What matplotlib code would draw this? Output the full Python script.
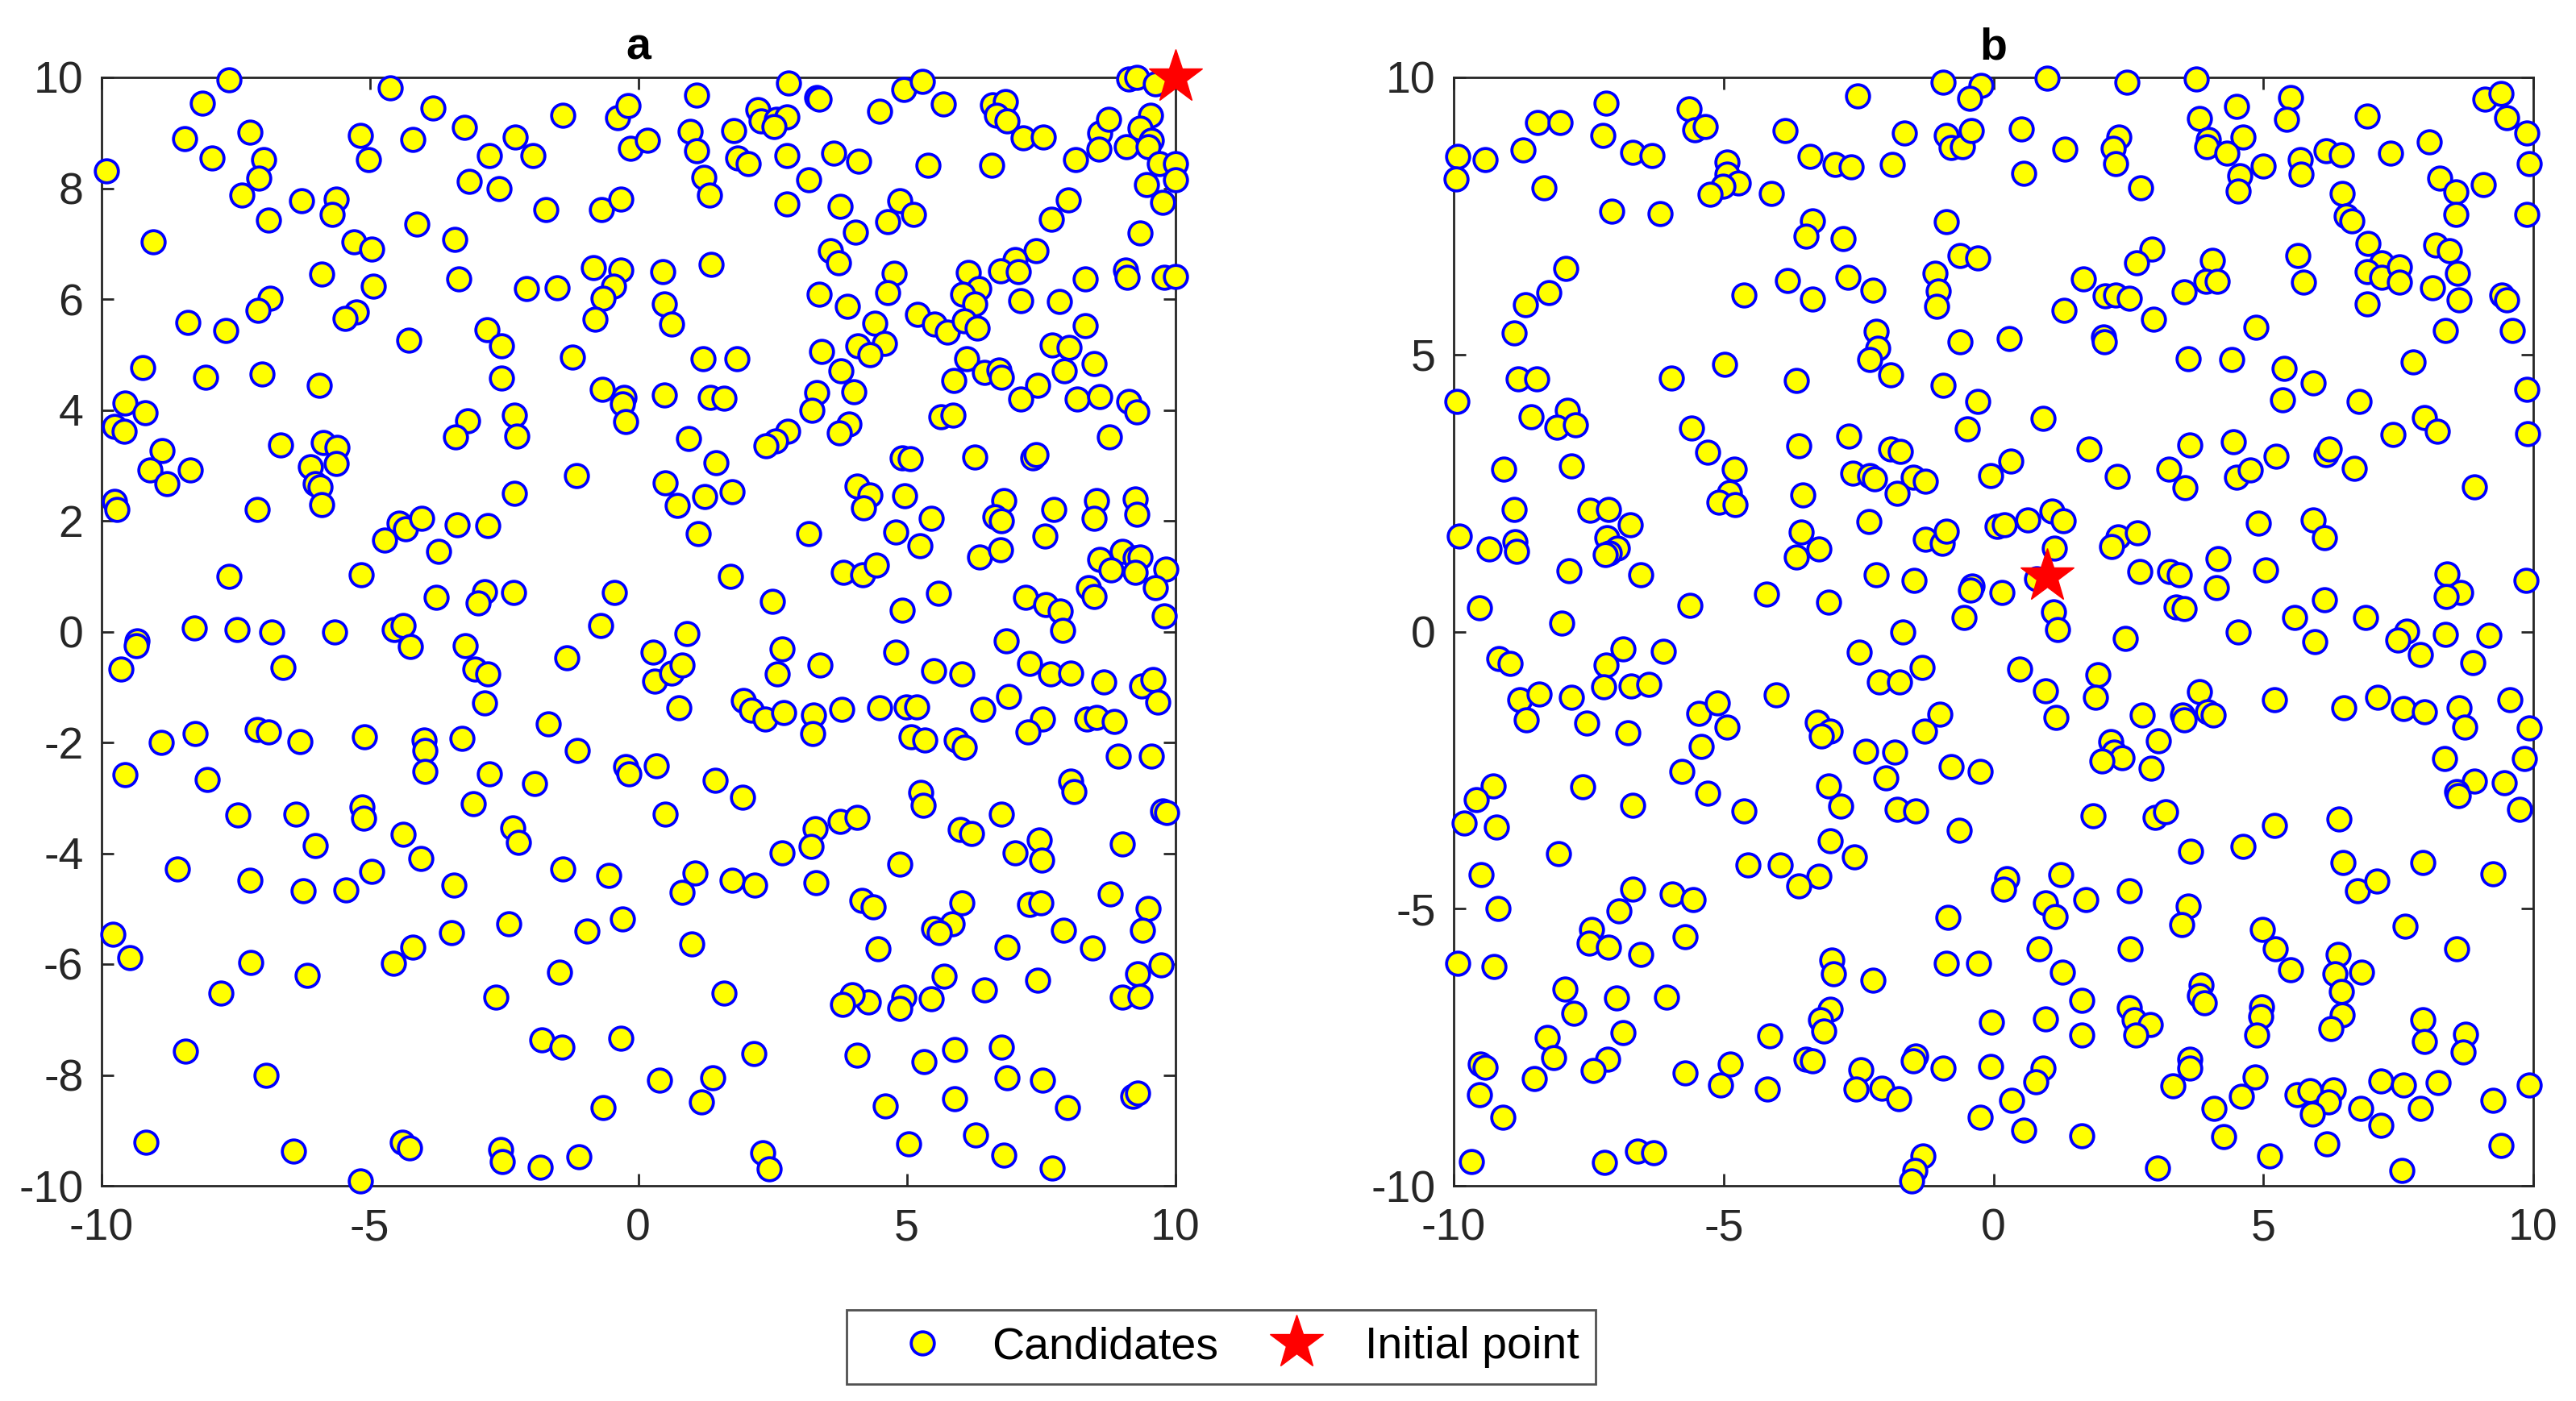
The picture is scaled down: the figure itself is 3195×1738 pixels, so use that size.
import matplotlib
matplotlib.use("Agg")
import matplotlib.pyplot as plt
from matplotlib.lines import Line2D

plt.rcParams['font.family'] = ['Liberation Sans', 'DejaVu Sans']

# ---------------- data: panel a (candidate points, x/y pairs) ----------------
a_top_left = [
    (-9.90, 8.31), (-7.62, 9.96), (-8.12, 9.53), (-8.45, 8.90), (-7.24, 9.01), (-7.94, 8.55),
    (-6.98, 8.52), (-7.07, 8.18), (-7.39, 7.87), (-6.89, 7.43), (-9.04, 7.04), (-6.27, 7.77),
    (-5.63, 7.80), (-5.70, 7.53), (-4.62, 9.81), (-5.18, 8.96), (-5.03, 8.52), (-4.20, 8.88),
    (-3.82, 9.45), (-3.24, 9.10), (-2.77, 8.59), (-2.30, 8.92), (-1.96, 8.59), (-3.15, 8.13),
    (-2.60, 7.99), (-1.40, 9.32), (-0.38, 9.27), (-1.72, 7.62), (-0.69, 7.61), (-0.33, 7.80),
    (-4.13, 7.35), (-3.42, 7.07), (-5.30, 7.03), (-4.97, 6.90), (-5.90, 6.45), (-4.94, 6.23),
    (-3.35, 6.36), (-0.83, 6.57), (-0.32, 6.52), (-0.46, 6.24), (-0.66, 6.02), (-0.80, 5.64),
    (-2.09, 6.19), (-1.51, 6.20), (-6.85, 6.02), (-7.08, 5.79), (-8.39, 5.58), (-7.69, 5.44),
    (-5.25, 5.77), (-5.46, 5.65), (-4.27, 5.26), (-2.82, 5.45), (-2.55, 5.16), (-1.22, 4.96),
    (-2.55, 4.57), (-9.23, 4.76), (-8.06, 4.59), (-7.01, 4.65), (-5.94, 4.45), (-0.67, 4.37),
    (-9.56, 4.13), (-9.18, 3.95), (-9.76, 3.70), (-9.58, 3.62), (-3.18, 3.81), (-3.41, 3.52),
    (-2.31, 3.90), (-2.26, 3.53), (-6.66, 3.37), (-5.86, 3.41), (-5.61, 3.32), (-5.62, 3.04),
    (-6.10, 2.97), (-6.01, 2.67), (-5.93, 2.61), (-5.89, 2.29), (-8.87, 3.26), (-9.10, 2.91),
    (-8.78, 2.67), (-8.35, 2.91), (-1.15, 2.81), (-2.31, 2.50), (-9.76, 2.35), (-9.71, 2.20),
    (-7.10, 2.21), (-4.45, 1.95), (-4.33, 1.85), (-4.04, 2.05), (-4.72, 1.65), (-3.37, 1.93),
    (-2.81, 1.91), (-3.72, 1.45), (-7.62, 1.00), (-5.16, 1.02), (-3.76, 0.62), (-2.87, 0.72),
    (-2.99, 0.51), (-2.33, 0.71), (-0.44, 0.71),
]
a_top_right = [
    (-0.19, 9.49), (-0.14, 8.72), (0.17, 8.86), (1.09, 9.68), (0.96, 9.02), (1.08, 8.68),
    (1.22, 8.19), (1.32, 7.87), (2.80, 9.90), (3.32, 9.64), (3.37, 9.61), (2.22, 9.42),
    (2.28, 9.21), (2.57, 9.25), (2.76, 9.29), (2.52, 9.11), (1.78, 9.04), (1.85, 8.54),
    (2.05, 8.44), (2.77, 8.59), (3.18, 8.16), (3.64, 8.64), (4.10, 8.49), (4.50, 9.39),
    (4.94, 9.78), (5.29, 9.93), (5.68, 9.52), (5.40, 8.41), (2.76, 7.72), (3.76, 7.67),
    (4.04, 7.21), (4.87, 7.77), (5.13, 7.53), (4.65, 7.40), (6.60, 9.51), (6.84, 9.57),
    (6.67, 9.32), (6.86, 9.21), (7.16, 8.91), (7.54, 8.93), (6.58, 8.42), (8.14, 8.51),
    (8.59, 8.99), (8.76, 9.24), (8.58, 8.71), (9.09, 8.75), (9.14, 9.97), (9.28, 10.0),
    (9.63, 9.89), (9.54, 9.31), (9.35, 9.09), (9.56, 8.87), (9.49, 8.75), (9.71, 8.45),
    (10.0, 8.45), (10.0, 8.15), (9.47, 8.07), (9.77, 7.75), (8.01, 7.79), (7.69, 7.44),
    (9.35, 7.19), (7.41, 6.88), (7.02, 6.71), (6.74, 6.51), (7.07, 6.49), (6.14, 6.48),
    (6.34, 6.19), (6.04, 6.09), (6.27, 5.92), (7.12, 5.97), (7.84, 5.95), (8.33, 6.37),
    (9.07, 6.52), (9.11, 6.40), (9.80, 6.39), (10.0, 6.41), (3.58, 6.87), (3.73, 6.65),
    (1.36, 6.62), (0.46, 6.49), (0.48, 5.91), (0.62, 5.55), (3.37, 6.09), (3.90, 5.87),
    (4.76, 6.46), (4.65, 6.12), (4.41, 5.57), (5.20, 5.73), (5.51, 5.55), (5.75, 5.40),
    (6.07, 5.61), (6.31, 5.47), (8.33, 5.52), (4.58, 5.20), (4.09, 5.15), (4.32, 4.99),
    (3.41, 5.05), (3.77, 4.70), (4.01, 4.33), (3.32, 4.32), (3.23, 4.00), (1.21, 4.92),
    (1.84, 4.93), (6.11, 4.92), (6.45, 4.67), (6.72, 4.72), (6.76, 4.59), (5.87, 4.53),
    (7.43, 4.44), (7.12, 4.20), (7.71, 5.17), (8.02, 5.13), (7.93, 4.71), (8.49, 4.84),
    (8.17, 4.19), (8.59, 4.24), (9.13, 4.15), (9.29, 3.97), (8.78, 3.51), (5.63, 3.87),
    (5.86, 3.91), (-0.26, 4.22), (-0.30, 4.11), (-0.24, 3.79), (0.48, 4.27), (1.34, 4.22),
    (1.60, 4.21), (0.93, 3.49), (1.45, 3.05), (2.78, 3.61), (2.55, 3.44), (2.37, 3.35),
    (3.93, 3.74), (3.75, 3.59), (4.92, 3.13), (5.06, 3.12), (6.27, 3.15), (7.34, 3.13),
    (7.40, 3.19), (0.50, 2.68), (0.72, 2.27), (1.23, 2.43), (1.74, 2.53), (1.12, 1.77),
    (3.18, 1.77), (4.07, 2.62), (4.32, 2.47), (4.20, 2.24), (4.96, 2.45), (5.46, 2.04),
    (4.79, 1.80), (5.24, 1.55), (6.80, 2.37), (6.64, 2.07), (6.76, 2.00), (7.74, 2.20),
    (7.57, 1.73), (8.54, 2.37), (8.49, 2.04), (9.25, 2.40), (9.28, 2.11), (6.36, 1.35),
    (6.74, 1.47), (9.02, 1.45), (8.59, 1.30), (8.80, 1.11), (9.25, 1.33), (9.34, 1.35),
    (9.25, 1.07), (9.83, 1.13), (9.63, 0.80), (8.38, 0.79), (8.49, 0.63), (9.79, 0.29),
    (7.21, 0.62), (7.59, 0.49), (7.86, 0.37), (3.82, 1.07), (4.18, 1.02), (4.43, 1.20),
    (5.59, 0.69), (4.92, 0.39), (2.50, 0.55), (1.71, 1.00),
]
a_bottom_left = [
    (-8.27, 0.06), (-7.48, 0.03), (-6.82, -0.01), (-5.66, -0.01), (-4.54, 0.04), (-4.38, 0.11),
    (-0.70, 0.11), (-9.33, -0.17), (-9.35, -0.26), (-9.63, -0.67), (-6.61, -0.64), (-4.25, -0.27),
    (-3.22, -0.26), (-3.04, -0.68), (-2.80, -0.77), (-2.86, -1.28), (-1.33, -0.47), (-1.67, -1.67),
    (-1.13, -2.14), (-8.88, -2.00), (-8.26, -1.84), (-9.56, -2.58), (-8.03, -2.67), (-7.10, -1.76),
    (-6.89, -1.81), (-6.30, -1.98), (-5.10, -1.90), (-3.99, -1.95), (-3.97, -2.14), (-3.97, -2.52),
    (-3.28, -1.93), (-2.78, -2.57), (-1.93, -2.74), (-3.08, -3.11), (-7.46, -3.31), (-6.38, -3.29),
    (-5.15, -3.16), (-5.12, -3.37), (-6.01, -3.86), (-4.38, -3.66), (-4.05, -4.09), (-2.34, -3.54),
    (-2.24, -3.80), (-8.58, -4.29), (-7.23, -4.49), (-6.24, -4.68), (-5.44, -4.66), (-4.97, -4.33),
    (-3.44, -4.57), (-1.41, -4.28), (-0.55, -4.40), (-9.78, -5.46), (-9.47, -5.89), (-7.22, -5.97),
    (-6.16, -6.21), (-7.77, -6.52), (-4.56, -5.99), (-4.20, -5.69), (-3.48, -5.43), (-2.41, -5.27),
    (-0.96, -5.41), (-1.47, -6.15), (-2.66, -6.60), (-8.43, -7.57), (-6.93, -8.01), (-1.79, -7.36),
    (-1.42, -7.50), (-0.32, -7.34), (-0.66, -8.59), (-9.17, -9.22), (-6.42, -9.37), (-4.40, -9.22),
    (-4.26, -9.32), (-2.56, -9.35), (-2.54, -9.56), (-1.83, -9.66), (-1.10, -9.47), (-5.17, -9.91),
]
a_bottom_right = [
    (0.90, -0.03), (0.28, -0.37), (0.31, -0.89), (0.62, -0.75), (0.81, -0.61), (0.75, -1.37),
    (2.68, -0.31), (2.58, -0.77), (3.39, -0.61), (1.96, -1.24), (2.10, -1.42), (2.36, -1.58),
    (2.71, -1.46), (3.26, -1.50), (3.25, -1.84), (3.79, -1.41), (4.79, -0.37), (4.49, -1.37),
    (4.99, -1.36), (5.18, -1.36), (5.08, -1.90), (5.34, -1.95), (5.50, -0.70), (6.03, -0.77),
    (6.42, -1.41), (5.92, -1.95), (6.07, -2.09), (6.85, -0.17), (7.29, -0.58), (7.68, -0.77),
    (8.05, -0.75), (7.90, 0.02), (6.89, -1.17), (7.52, -1.58), (7.25, -1.81), (8.67, -0.91),
    (8.35, -1.58), (8.54, -1.55), (8.86, -1.62), (9.37, -0.98), (9.59, -0.87), (9.68, -1.27),
    (8.94, -2.24), (9.55, -2.24), (-0.24, -2.44), (-0.18, -2.56), (0.34, -2.42), (1.43, -2.69),
    (1.94, -2.99), (0.50, -3.30), (5.26, -2.90), (5.30, -3.13), (6.76, -3.30), (8.06, -2.70),
    (8.11, -2.88), (9.76, -3.23), (9.84, -3.27), (3.29, -3.55), (3.22, -3.88), (3.76, -3.42),
    (4.08, -3.35), (2.68, -3.99), (6.00, -3.57), (6.21, -3.65), (7.02, -3.99), (7.47, -3.76),
    (7.51, -4.13), (9.01, -3.83), (4.87, -4.20), (1.06, -4.35), (0.82, -4.70), (1.75, -4.48),
    (2.17, -4.57), (3.31, -4.53), (-0.29, -5.18), (1.00, -5.64), (4.16, -4.85), (4.37, -4.97),
    (6.03, -4.90), (5.85, -5.27), (5.50, -5.36), (5.61, -5.43), (4.47, -5.73), (6.87, -5.69),
    (7.28, -4.92), (7.49, -4.89), (7.92, -5.39), (8.46, -5.71), (8.79, -4.74), (9.50, -4.99),
    (9.39, -5.39), (9.74, -6.01), (9.30, -6.17), (9.01, -6.60), (9.35, -6.58), (7.44, -6.29),
    (6.45, -6.46), (5.70, -6.22), (5.45, -6.62), (4.94, -6.60), (4.87, -6.80), (4.28, -6.68),
    (3.98, -6.55), (3.80, -6.72), (1.60, -6.53), (2.15, -7.62), (0.40, -8.09), (1.38, -8.05),
    (1.17, -8.49), (4.08, -7.64), (5.32, -7.76), (5.89, -7.54), (6.76, -7.50), (6.87, -8.05),
    (7.53, -8.09), (5.89, -8.43), (4.60, -8.56), (7.99, -8.59), (9.21, -8.38), (9.30, -8.33),
    (6.28, -9.09), (5.04, -9.24), (6.80, -9.45), (7.71, -9.68), (2.31, -9.40), (2.44, -9.70),
]
a_initial = (10.0, 10.0)

# ---------------- data: panel b ----------------
b_top_left = [
    (-9.93, 8.58), (-9.96, 8.17), (-9.42, 8.51), (-8.72, 8.69), (-8.44, 9.18), (-8.03, 9.18),
    (-8.32, 8.01), (-7.18, 9.54), (-7.24, 8.95), (-6.69, 8.65), (-6.32, 8.59), (-7.07, 7.59),
    (-6.17, 7.54), (-5.64, 9.44), (-5.53, 9.06), (-5.34, 9.12), (-4.94, 8.48), (-4.94, 8.25),
    (-4.72, 8.10), (-5.01, 8.03), (-5.25, 7.89), (-4.11, 7.90), (-3.86, 9.04), (-3.40, 8.57),
    (-2.94, 8.43), (-2.63, 8.38), (-2.51, 9.67), (-1.88, 8.43), (-1.65, 9.00), (-0.94, 9.92),
    (-0.23, 9.85), (-0.44, 9.62), (-0.87, 8.95), (-0.79, 8.73), (-0.58, 8.75), (-0.41, 9.04),
    (-3.36, 7.41), (-3.47, 7.14), (-2.79, 7.09), (-0.88, 7.39), (-0.62, 6.79), (-0.29, 6.74),
    (-1.08, 6.47), (-1.02, 6.14), (-1.05, 5.87), (-2.70, 6.39), (-2.23, 6.16), (-3.81, 6.33),
    (-3.36, 6.00), (-4.63, 6.08), (-7.93, 6.55), (-8.24, 6.12), (-8.67, 5.90), (-8.88, 5.39),
    (-2.17, 5.42), (-2.14, 5.11), (-2.30, 4.91), (-1.90, 4.63), (-0.62, 5.23), (-4.98, 4.82),
    (-5.97, 4.58), (-3.65, 4.53), (-0.93, 4.45), (-0.29, 4.16), (-8.81, 4.56), (-8.46, 4.56),
    (-9.94, 4.15), (-8.57, 3.88), (-7.90, 4.00), (-8.09, 3.69), (-7.74, 3.73), (-5.60, 3.68),
    (-0.48, 3.66), (-5.30, 3.23), (-3.60, 3.35), (-2.68, 3.53), (-1.91, 3.29), (-1.73, 3.25),
    (-9.07, 2.93), (-7.82, 2.99), (-4.80, 2.93), (-2.61, 2.86), (-2.30, 2.82), (-2.21, 2.76),
    (-1.49, 2.78), (-1.26, 2.71), (-1.78, 2.49), (-4.89, 2.51), (-5.08, 2.34), (-4.78, 2.29),
    (-3.53, 2.46), (-8.88, 2.20), (-7.48, 2.19), (-7.13, 2.20), (-6.73, 1.93), (-9.89, 1.72),
    (-9.35, 1.49), (-8.86, 1.62), (-8.83, 1.45), (-7.16, 1.70), (-6.97, 1.50), (-7.11, 1.42),
    (-7.19, 1.39), (-2.31, 1.99), (-3.56, 1.79), (-3.24, 1.49), (-3.65, 1.35), (-1.26, 1.67),
    (-0.95, 1.60), (-0.88, 1.81), (-7.87, 1.10), (-6.53, 1.02), (-2.17, 1.03), (-1.47, 0.92),
    (-0.40, 0.82), (-0.42, 0.75), (-4.21, 0.68), (-3.05, 0.53), (-5.62, 0.48), (-9.52, 0.43),
    (-0.54, 0.26),
]
b_top_right = [
    (0.99, 9.99), (2.47, 9.91), (3.76, 9.97), (0.51, 9.07), (1.32, 8.70), (0.56, 8.27),
    (2.33, 8.92), (2.22, 8.72), (2.26, 8.44), (2.73, 8.01), (3.82, 9.26), (4.51, 9.47),
    (3.98, 8.88), (3.95, 8.75), (4.63, 8.92), (4.33, 8.63), (4.99, 8.40), (4.56, 8.23),
    (4.53, 7.95), (5.51, 9.63), (5.43, 9.25), (5.69, 8.52), (5.70, 8.25), (6.16, 8.68),
    (6.45, 8.60), (6.46, 7.90), (6.54, 7.50), (6.64, 7.41), (6.92, 9.30), (7.35, 8.63),
    (8.08, 8.83), (8.26, 8.18), (8.56, 7.93), (8.56, 7.53), (9.08, 8.06), (9.11, 9.61),
    (9.40, 9.71), (9.51, 9.27), (9.88, 9.00), (9.92, 8.45), (9.88, 7.53), (6.94, 7.01),
    (8.20, 6.98), (8.44, 6.88), (8.59, 6.46), (7.19, 6.66), (6.92, 6.50), (7.19, 6.39),
    (7.52, 6.58), (7.52, 6.31), (6.92, 5.91), (8.13, 6.21), (8.63, 5.98), (9.42, 6.08),
    (9.51, 5.99), (9.61, 5.43), (8.37, 5.43), (7.78, 4.86), (9.88, 4.37), (9.90, 3.57),
    (5.64, 6.79), (5.75, 6.31), (4.86, 5.49), (5.39, 4.75), (5.92, 4.49), (5.35, 4.18),
    (6.78, 4.16), (7.99, 3.86), (8.23, 3.62), (7.40, 3.56), (8.91, 2.61), (2.94, 6.90),
    (2.65, 6.66), (1.67, 6.36), (2.07, 6.06), (2.27, 6.08), (2.51, 6.02), (1.30, 5.80),
    (2.96, 5.63), (4.05, 6.70), (3.94, 6.32), (4.15, 6.32), (3.53, 6.13), (0.29, 5.29),
    (2.04, 5.32), (2.06, 5.23), (3.60, 4.92), (4.42, 4.91), (0.92, 3.85), (1.77, 3.30),
    (0.32, 3.08), (-0.05, 2.81), (2.30, 2.80), (3.63, 3.37), (3.25, 2.93), (3.54, 2.60),
    (4.45, 3.42), (4.51, 2.78), (4.75, 2.92), (5.23, 3.17), (6.16, 3.19), (6.22, 3.30),
    (6.68, 2.95), (0.06, 1.90), (0.20, 1.93), (0.63, 2.02), (1.08, 2.17), (1.29, 2.00),
    (1.13, 1.50), (2.31, 1.71), (2.66, 1.78), (2.19, 1.53), (4.90, 1.95), (5.92, 2.02),
    (6.13, 1.70), (4.16, 1.31), (5.04, 1.12), (2.71, 1.08), (3.26, 1.08), (3.45, 1.03),
    (4.13, 0.80), (0.16, 0.70), (3.39, 0.45), (3.53, 0.41), (1.11, 0.36), (6.13, 0.58),
    (5.58, 0.25), (6.90, 0.25), (8.40, 1.04), (8.65, 0.70), (8.39, 0.64), (9.86, 0.92),
    (0.80, 0.95),
]
b_bottom_left = [
    (-8.00, 0.15), (-1.68, -0.01), (-9.16, -0.49), (-8.95, -0.58), (-6.86, -0.31), (-6.11, -0.35),
    (-7.18, -0.61), (-7.22, -0.99), (-6.71, -0.98), (-6.39, -0.95), (-8.78, -1.23), (-8.41, -1.12),
    (-7.82, -1.18), (-8.65, -1.59), (-7.53, -1.65), (-6.77, -1.83), (-5.46, -1.48), (-5.11, -1.28),
    (-4.93, -1.72), (-5.41, -2.07), (-5.77, -2.52), (-5.29, -2.92), (-4.02, -1.14), (-3.26, -1.64),
    (-3.02, -1.79), (-3.19, -1.88), (-2.48, -0.37), (-2.11, -0.91), (-1.74, -0.91), (-1.32, -0.65),
    (-1.00, -1.49), (-1.28, -1.79), (-2.36, -2.16), (-1.83, -2.18), (-1.99, -2.64), (-0.79, -2.44),
    (-0.25, -2.52), (-3.06, -2.79), (-2.83, -3.15), (-1.78, -3.20), (-1.44, -3.24), (-0.63, -3.58),
    (-4.62, -3.23), (-6.69, -3.14), (-7.61, -2.80), (-9.27, -2.78), (-9.58, -3.03), (-9.80, -3.46),
    (-9.21, -3.53), (-8.06, -4.01), (-3.02, -3.78), (-2.57, -4.07), (-4.55, -4.21), (-3.95, -4.21),
    (-3.24, -4.42), (-3.61, -4.59), (-9.49, -4.38), (-9.18, -4.99), (-6.68, -4.64), (-6.94, -5.04),
    (-5.95, -4.74), (-5.57, -4.83), (-7.45, -5.38), (-7.49, -5.62), (-7.13, -5.70), (-6.53, -5.82),
    (-5.72, -5.50), (-9.92, -5.99), (-9.25, -6.05), (-0.85, -5.15), (-0.87, -5.98), (-0.27, -5.98),
    (-3.00, -5.92), (-2.97, -6.18), (-2.23, -6.29), (-7.94, -6.45), (-7.78, -6.89), (-6.99, -6.61),
    (-6.06, -6.59), (-3.03, -6.82), (-3.21, -7.01), (-3.15, -7.21), (-8.27, -7.33), (-8.15, -7.68),
    (-6.86, -7.23), (-7.15, -7.71), (-7.41, -7.92), (-8.51, -8.07), (-9.51, -7.81), (-9.42, -7.86),
    (-9.52, -8.36), (-9.09, -8.76), (-4.14, -7.29), (-5.72, -7.97), (-4.88, -7.81), (-5.05, -8.18),
    (-4.19, -8.25), (-3.47, -7.72), (-3.35, -7.74), (-2.45, -7.90), (-2.55, -8.25), (-2.07, -8.24),
    (-1.75, -8.43), (-1.44, -7.66), (-1.49, -7.74), (-0.94, -7.88), (-0.25, -8.76), (-9.67, -9.57),
    (-7.20, -9.58), (-6.60, -9.38), (-6.29, -9.41), (-1.30, -9.46), (-1.46, -9.72), (-1.52, -9.91),
]
b_bottom_right = [
    (1.18, 0.03), (2.44, -0.12), (4.54, -0.01), (5.95, -0.18), (7.66, 0.01), (7.49, -0.15),
    (7.91, -0.42), (8.37, -0.05), (9.18, -0.06), (8.88, -0.56), (0.49, -0.68), (0.97, -1.07),
    (1.16, -1.55), (1.93, -0.78), (1.89, -1.18), (2.75, -1.51), (3.05, -1.97), (2.17, -1.98),
    (2.24, -2.18), (2.38, -2.27), (2.01, -2.34), (2.92, -2.46), (3.82, -1.09), (3.51, -1.50),
    (3.53, -1.59), (3.96, -1.44), (4.07, -1.50), (5.20, -1.23), (6.49, -1.37), (7.11, -1.19),
    (7.59, -1.39), (7.98, -1.44), (8.63, -1.37), (8.73, -1.72), (9.56, -1.23), (9.92, -1.74),
    (8.35, -2.29), (9.83, -2.29), (8.91, -2.70), (8.58, -2.89), (8.61, -2.96), (9.46, -2.72),
    (9.75, -3.20), (1.85, -3.32), (2.99, -3.35), (3.19, -3.25), (3.65, -3.97), (4.62, -3.87),
    (5.21, -3.50), (6.40, -3.38), (6.48, -4.16), (7.96, -4.16), (6.75, -4.67), (7.10, -4.50),
    (9.26, -4.37), (0.25, -4.46), (0.18, -4.64), (1.25, -4.38), (0.97, -4.90), (1.15, -5.14),
    (1.71, -4.83), (2.51, -4.67), (3.60, -4.95), (3.49, -5.29), (4.98, -5.38), (5.22, -5.73),
    (5.50, -6.10), (7.63, -5.32), (8.58, -5.72), (6.39, -5.82), (6.32, -6.18), (6.82, -6.15),
    (6.45, -6.50), (6.46, -6.91), (6.25, -7.17), (0.85, -5.73), (1.27, -6.15), (2.53, -5.73),
    (1.64, -6.66), (0.97, -6.99), (1.64, -7.28), (-0.04, -7.04), (2.52, -6.79), (2.61, -7.01),
    (2.91, -7.09), (2.63, -7.28), (3.84, -6.38), (3.82, -6.57), (3.91, -6.70), (4.96, -6.77),
    (4.95, -6.94), (4.88, -7.28), (7.96, -7.01), (7.98, -7.40), (8.75, -7.26), (8.70, -7.58),
    (-0.05, -7.84), (0.92, -7.88), (0.78, -8.13), (0.34, -8.46), (0.56, -9.00), (1.63, -9.10),
    (3.63, -7.71), (3.63, -7.88), (3.32, -8.19), (4.08, -8.60), (4.26, -9.11), (4.59, -8.38),
    (4.85, -8.04), (5.11, -9.46), (3.04, -9.68), (5.62, -8.36), (5.87, -8.29), (6.29, -8.27),
    (6.20, -8.48), (5.90, -8.71), (6.18, -9.24), (6.80, -8.60), (7.17, -8.91), (7.17, -8.11),
    (7.59, -8.18), (7.91, -8.60), (8.24, -8.14), (7.56, -9.73), (9.26, -8.46), (9.93, -8.18),
    (9.41, -9.27),
]
b_initial = (1.0, 1.0)

panel_titles = ['a', 'b']
legend_labels = ['Candidates', 'Initial point']
a_yticks = [-10, -8, -6, -4, -2, 0, 2, 4, 6, 8, 10]
b_yticks = [-10, -5, 0, 5, 10]
xticks = [-10, -5, 0, 5, 10]

# ---------------- figure ----------------
W, H, DPI = 3195, 1738, 200
fig = plt.figure(figsize=(W / DPI, H / DPI), dpi=DPI)
ax_a = fig.add_axes([125.7 / W, 1 - 1471 / H, 1332 / W, 1375 / H])
ax_b = fig.add_axes([1803 / W, 1 - 1471 / H, 1339 / W, 1375 / H])

AX_COL = '#262626'
circ_kw = dict(linestyle='none', marker='o', markersize=10.3, markerfacecolor=(1, 1, 0),
               markeredgecolor=(0, 0, 1), markeredgewidth=1.35, clip_on=False, zorder=3)
star_kw = dict(linestyle='none', marker='*', markersize=25, markerfacecolor=(1, 0, 0),
               markeredgecolor=(1, 0, 0), markeredgewidth=0.5, clip_on=False, zorder=4)

panels = [
    (ax_a, a_top_left + a_top_right + a_bottom_left + a_bottom_right, a_initial, a_yticks, panel_titles[0]),
    (ax_b, b_top_left + b_top_right + b_bottom_left + b_bottom_right, b_initial, b_yticks, panel_titles[1]),
]
handles = None
for ax, pts, init, yt, title in panels:
    xs = [p[0] for p in pts]
    ys = [p[1] for p in pts]
    h1, = ax.plot(xs, ys, **circ_kw)
    h2, = ax.plot([init[0]], [init[1]], **star_kw)
    if handles is None:
        handles = [h1, h2]
    ax.set_xlim(-10, 10)
    ax.set_ylim(-10, 10)
    ax.set_xticks(xticks)
    ax.set_yticks(yt)
    ax.set_xticklabels([str(v) for v in xticks])
    ax.set_yticklabels([str(v) for v in yt])
    ax.tick_params(direction='in', top=True, right=True, length=5.4, width=1.0,
                   color=AX_COL, labelcolor=AX_COL, labelsize=20, pad=8)
    ax.tick_params(axis='x', pad=10)
    for s in ax.spines.values():
        s.set_linewidth(1.0)
        s.set_color(AX_COL)
    ax.set_title(title, fontsize=20, fontweight='bold', pad=8)

leg = fig.legend(handles, legend_labels, loc='center', bbox_to_anchor=(1514.5 / W, 1 - 1671 / H),
                 ncol=2, fontsize=20, frameon=True, fancybox=False, borderpad=0.36,
                 handlelength=2.68, handletextpad=0.2, columnspacing=0.4, borderaxespad=0)
leg.get_frame().set_edgecolor(AX_COL)
leg.get_frame().set_linewidth(1.0)

fig.savefig('out.png', dpi=DPI)
